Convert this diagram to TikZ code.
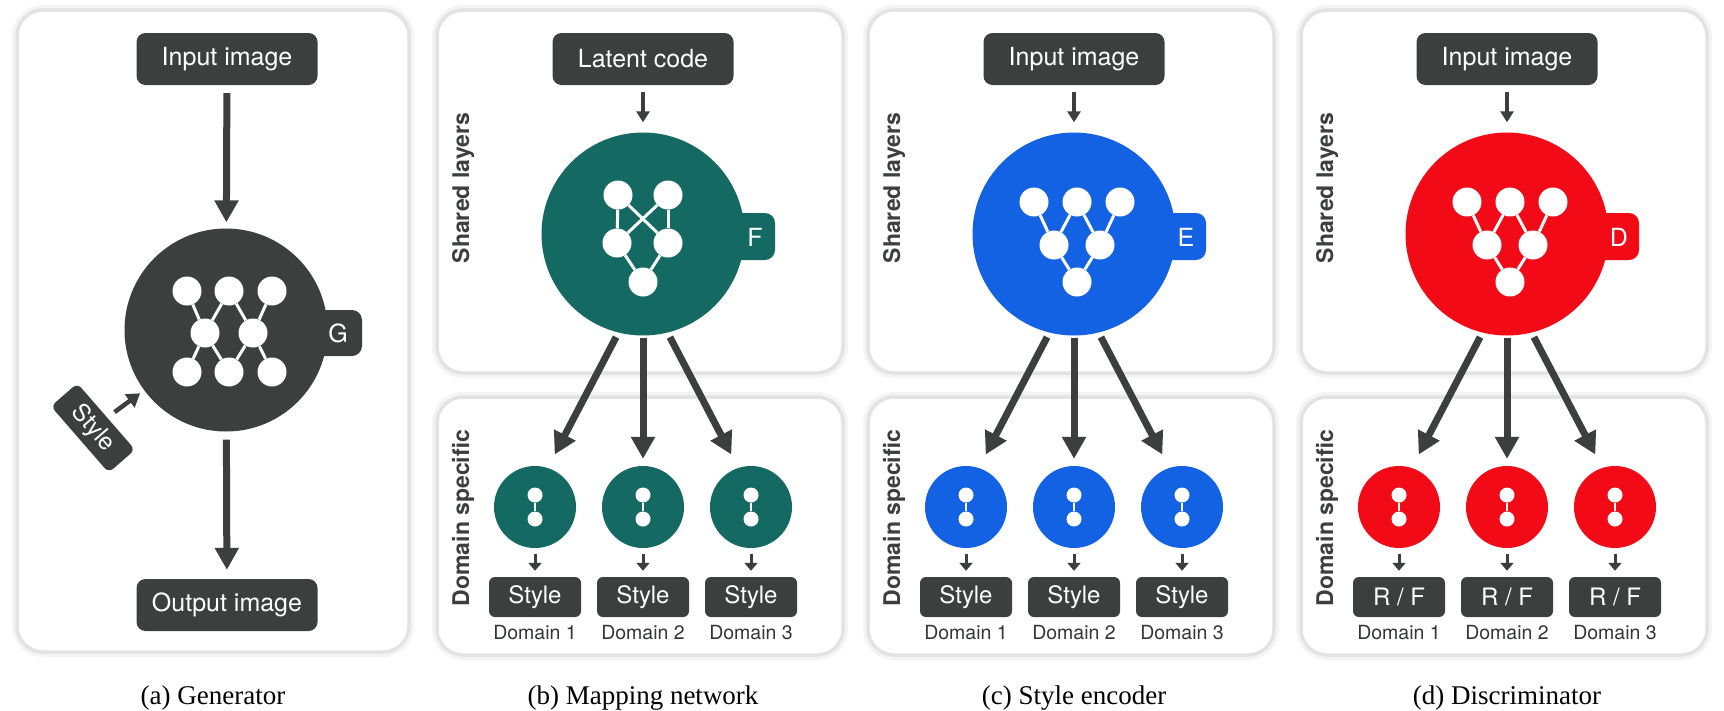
\documentclass[tikz,border=0pt]{standalone}
\usepackage{fontspec}
\setmainfont{Liberation Serif}
\setsansfont{TeX Gyre Heros}
\usepackage{tikz}
\usetikzlibrary{arrows.meta}

\definecolor{netgray}{HTML}{3D3F3F}
\definecolor{netteal}{HTML}{146A63}
\definecolor{netblue}{HTML}{1262E3}
\definecolor{netred}{HTML}{F20A17}
\definecolor{panelline}{HTML}{E3E3E3}
\definecolor{panelglow}{HTML}{F4F4F4}
\newcommand{\rfout}{R / F}

\begin{document}
\begin{tikzpicture}[x=1pt, y=-1pt,
	panel/.style={draw=panelline, line width=3.5pt, fill=white, rounded corners=26pt, preaction={draw=panelglow, line width=10pt}},
	tag/.style={fill=netgray, text=white, rounded corners=9pt, inner sep=0pt, minimum width=181pt, minimum height=52pt, font=\sffamily\fontsize{25}{30}\selectfont},
	outtag/.style={fill=netgray, text=white, rounded corners=6pt, inner sep=0pt, minimum width=92pt, minimum height=40pt, font=\sffamily\fontsize{24}{28}\selectfont},
	bignet/.style={circle, fill=#1, inner sep=0pt, minimum size=203pt},
	subnet/.style={circle, fill=#1, inner sep=0pt, minimum size=82pt},
	dot/.style={circle, fill=white, inner sep=0pt, minimum size=29pt},
	pip/.style={circle, fill=white, inner sep=0pt, minimum size=15pt},
	link/.style={draw=white, line width=3pt},
	netlab/.style={text=white, font=\sffamily\fontsize{25}{30}\selectfont},
	sidelabel/.style={rotate=90, text=netgray, font=\sffamily\bfseries\fontsize{23}{28}\selectfont},
	domlabel/.style={text=netgray!85!black, font=\sffamily\fontsize{19.5}{24}\selectfont},
	subcap/.style={anchor=base, font=\fontsize{27}{32}\selectfont},
	bigarrow/.style={draw=netgray, line width=7pt, -{Triangle[length=22pt,width=23pt]}},
	midarrow/.style={draw=netgray, line width=4.5pt, -{Triangle[length=13pt,width=16pt]}},
	smallarrow/.style={draw=netgray, line width=3.5pt, -{Triangle[length=11pt,width=13pt]}},
	tinyarrow/.style={draw=netgray, line width=3pt, -{Triangle[length=8pt,width=13pt]}},
]
	\fill[white] (0,0) rectangle (1724,710);
	\useasboundingbox (0,0) rectangle (1724,710);

	% (a) generator
	\draw[panel] (17,10) rectangle (409,652);
	\node[tag] (gin) at (227,59) {Input image};
	\node[tag] (gout) at (227,605) {Output image};
	\fill[netgray, rounded corners=10pt] (300,310) rectangle (362,356);
	\node[bignet=netgray] (gen) at (226,330) {};
	\node[netlab] (genlab) at (338,333) {G};
	\foreach \n/\x/\y in {1/187/291, 2/229/291, 3/272/291, 4/205/333, 5/253/333, 6/187/372, 7/229/372, 8/272/372}
		\node[dot] (g\n) at (\x,\y) {};
	\foreach \a/\b in {1/4, 2/4, 2/5, 3/5, 6/4, 7/4, 7/5, 8/5}
		\draw[link] (g\a) -- (g\b);
	\node[outtag, minimum width=88pt, minimum height=35pt, rotate=-49] (gsty) at (93,428) {Style};
	\draw[bigarrow, shorten <=8pt, shorten >=6pt] (gin) -- (gen);
	\draw[bigarrow, shorten <=8pt, shorten >=9pt] (gen) -- (gout);
	\draw[midarrow, shorten <=9pt, shorten >=5pt] (gsty) -- (gen);
	\node[subcap] (capa) at (213,704) {(a) Generator};

	% (b)-(d)
	\foreach \p/\L/\col/\lab/\inp/\out/\cap in {b/437/netteal/F/Latent code/Style/Mapping network, c/868/netblue/E/Input image/Style/Style encoder, d/1301/netred/D/Input image/\rfout/Discriminator}
	{
		\pgfmathsetmacro{\cx}{\L+206}
		\draw[panel] (\L,10) rectangle ++(406,363);
		\draw[panel] (\L,397) rectangle ++(406,258);
		\node[sidelabel] (\p-share) at (\L+26,188) {Shared layers};
		\node[sidelabel] (\p-spec) at (\L+26,518) {Domain specific};
		\node[tag] (\p-in) at (\cx,59) {\inp};
		\fill[\col, rounded corners=10pt] (\cx,213) rectangle (\cx+132,260);
		\node[bignet=\col] (\p-net) at (\cx,234) {};
		\node[netlab] (\p-lab) at (\cx+112,237) {\lab};
		\draw[smallarrow, shorten <=7pt, shorten >=10pt] (\p-in) -- (\p-net);
		\foreach \k/\dx in {1/-108, 2/0, 3/108} {
			\pgfmathsetmacro{\hx}{\cx+\dx}
			\node[subnet=\col] (\p-h\k) at (\hx,507) {};
			\node[pip] (\p-h\k a) at (\hx,495) {};
			\node[pip] (\p-h\k b) at (\hx,519) {};
			\draw[draw=white, line width=2pt] (\p-h\k a) -- (\p-h\k b);
			\node[outtag] (\p-o\k) at (\hx,597) {\out};
			\node[domlabel] (\p-d\k) at (\hx,633) {Domain \k};
			\draw[tinyarrow, shorten <=6pt, shorten >=6pt] (\p-h\k) -- (\p-o\k);
		}
		\draw[bigarrow, shorten <=5pt, shorten >=15pt] (\p-net.-104) -- (\p-h1.72);
		\draw[bigarrow, shorten <=2pt, shorten >=7pt] (\p-net.south) -- (\p-h2.north);
		\draw[bigarrow, shorten <=5pt, shorten >=15pt] (\p-net.-76) -- (\p-h3.108);
		\node[subcap] (\p-cap) at (\cx,704) {(\p) \cap};
	}

	% F glyph
	\foreach \n/\x/\y in {1/618/195, 2/668/195, 3/617/243, 4/668/243, 5/643/282}
		\node[dot] (f\n) at (\x,\y) {};
	\foreach \a/\b in {1/3, 2/4, 1/4, 2/3, 3/5, 4/5}
		\draw[link] (f\a) -- (f\b);

	% E and D glyphs
	\foreach \p/\cx in {e/1074, d/1507}
	{
		\foreach \n/\dx/\y in {1/-40/202, 2/3/202, 3/46/202, 4/-20/245, 5/26/245, 6/3/282}
			\node[dot] (\p\n) at (\cx+\dx,\y) {};
		\foreach \a/\b in {1/4, 2/4, 2/5, 3/5, 4/6, 5/6}
			\draw[link] (\p\a) -- (\p\b);
	}
\end{tikzpicture}
\end{document}
